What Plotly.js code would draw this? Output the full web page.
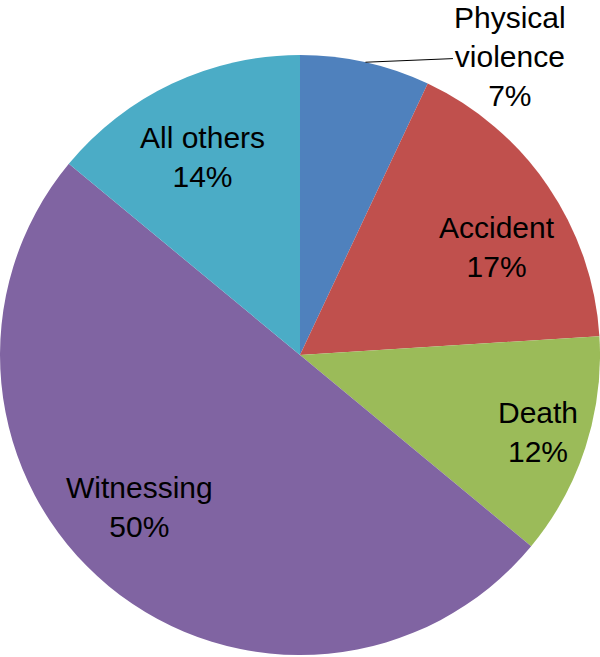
<!DOCTYPE html>
<html>
<head>
<meta charset="utf-8">
<script src="https://cdn.plot.ly/plotly-3.0.1.min.js"></script>
<style>
  html, body { margin: 0; padding: 0; background: #fff; }
  #chart { width: 600px; height: 657px; }
</style>
</head>
<body>
<div id="chart"></div>
<script>
let categories = ['Physical violence', 'Accident', 'Death', 'Witnessing', 'All others'];
let labelText = ['Physical<br>violence', 'Accident', 'Death', 'Witnessing', 'All others'];
let shares = [7, 17, 12, 50, 14];
let colors = ['#4f81bd', '#c0504d', '#9bbb59', '#8064a2', '#4bacc6'];

// chart geometry (pixels)
let W = 600, H = 657;
let cx = 300, cy = 355, R = 300;

// label placement: radius fraction and angle tweak (deg) per slice
let labelPos = [null, [0.75, 5.5], [0.834, 0], [0.736, 7], [0.735, -1]];

let total = shares.reduce((a, b) => a + b, 0);
let annotations = [];
let start = 0;
for (let i = 0; i < shares.length; i++) {
  let sweep = shares[i] / total * 360;
  let mid = start + sweep / 2;
  let text = labelText[i] + '<br>' + shares[i] + '%';
  if (labelPos[i]) {
    let a = (mid + labelPos[i][1]) * Math.PI / 180;
    let r = labelPos[i][0] * R;
    annotations.push({
      text: text, showarrow: false,
      xref: 'paper', yref: 'paper',
      x: (cx + r * Math.sin(a)) / W,
      y: 1 - (cy - r * Math.cos(a)) / H,
      xanchor: 'center', yanchor: 'middle'
    });
  } else {
    // outside label with leader line
    let a = mid * Math.PI / 180;
    annotations.push({
      text: text, showarrow: true, arrowhead: 0, arrowwidth: 1, arrowcolor: '#000',
      xref: 'paper', yref: 'paper',
      x: (cx + R * Math.sin(a)) / W,
      y: 1 - (cy - R * Math.cos(a)) / H,
      ax: 145, ay: -6,
      xanchor: 'center', yanchor: 'middle', standoff: 0, startstandoff: 0
    });
  }
  start += sweep;
}

let trace = {
  type: 'pie',
  labels: categories,
  values: shares,
  sort: false,
  direction: 'clockwise',
  rotation: 0,
  marker: { colors: colors, line: { width: 0 } },
  textinfo: 'none',
  hoverinfo: 'label+percent',
  domain: { x: [0, 1], y: [1 - (cy + R) / H, 1 - (cy - R) / H] }
};

let layout = {
  width: W,
  height: H,
  margin: { l: 0, r: 0, t: 0, b: 0 },
  showlegend: false,
  paper_bgcolor: '#fff',
  font: { family: 'Liberation Sans, Arial, sans-serif', size: 30, color: '#000' },
  annotations: annotations
};

Plotly.newPlot('chart', [trace], layout, { displayModeBar: false });
</script>
</body>
</html>
